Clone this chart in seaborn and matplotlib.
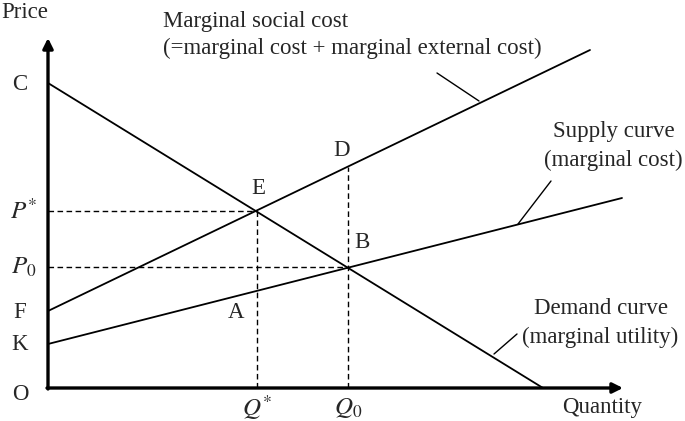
import matplotlib
matplotlib.use('Agg')
import matplotlib.pyplot as plt
import seaborn as sns

sns.set_style('white')
plt.rcParams['font.family'] = ['Liberation Serif', 'DejaVu Serif']
plt.rcParams['mathtext.fontset'] = 'stix'

# curve end points (quantity, price)
demand_q = [0, 495]
demand_p = [305, 0]
msc_q = [0, 542]
msc_p = [77, 338]
supply_q = [0, 574]
supply_p = [44, 190]

# equilibrium points
q_star, p_star = 209, 177
q_zero, p_zero = 300, 121
p_d = 221

fig = plt.figure(figsize=(6.85, 4.21), dpi=100)
ax = fig.add_axes([0, 0, 1, 1])
ax.set_xlim(-48, 637)
ax.set_ylim(-33, 388)
ax.axis('off')

fs = 16.5
ms = 18
for q, p in [(demand_q, demand_p), (msc_q, msc_p), (supply_q, supply_p)]:
    sns.lineplot(x=q, y=p, ax=ax, color='black', lw=1.3)

# axes with arrows
ax.annotate('', xy=(0, 350), xytext=(0, -1),
            arrowprops=dict(arrowstyle='-|>', lw=2.4, color='black', mutation_scale=15,
                            shrinkA=0, shrinkB=0))
ax.annotate('', xy=(575, 0), xytext=(-1, 0),
            arrowprops=dict(arrowstyle='-|>', lw=2.4, color='black', mutation_scale=15,
                            shrinkA=0, shrinkB=0))

# dashed guides
dash = dict(color='black', lw=1, ls=(0, (4, 2.5)))
ax.plot([0, q_star], [p_star, p_star], **dash)
ax.plot([q_star, q_star], [0, p_star], **dash)
ax.plot([0, q_zero], [p_zero, p_zero], **dash)
ax.plot([q_zero, q_zero], [0, p_d], **dash)

# axis labels
ax.text(-23, 375, 'Price', fontsize=fs, ha='center', va='center')
ax.text(554, -19, 'Quantity', fontsize=fs, ha='center', va='center')
ax.text(-28, -7, 'O', fontsize=fs, ha='center', va='center')
ax.text(-28, 303, 'C', fontsize=fs, ha='center', va='center')
ax.text(-24, p_star, r'$P^{*}$', fontsize=ms, ha='center', va='center')
ax.text(-24, p_zero, r'$P_0$', fontsize=ms, ha='center', va='center')
ax.text(-28, 76, 'F', fontsize=fs, ha='center', va='center')
ax.text(-28, 43, 'K', fontsize=fs, ha='center', va='center')
ax.text(q_star, -20, r'$Q^{*}$', fontsize=ms, ha='center', va='center')
ax.text(q_zero, -20, r'$Q_0$', fontsize=ms, ha='center', va='center')

# point labels
ax.text(210, 200, 'E', fontsize=fs, ha='center', va='center')
ax.text(294, 238, 'D', fontsize=fs, ha='center', va='center')
ax.text(314, 146, 'B', fontsize=fs, ha='center', va='center')
ax.text(188, 76, 'A', fontsize=fs, ha='center', va='center')

# curve names with leader lines
ax.text(115, 367, 'Marginal social cost', fontsize=fs, ha='left', va='center')
ax.text(115, 340, '(=marginal cost + marginal external cost)', fontsize=fs,
        ha='left', va='center')
ax.plot([389, 431], [315, 287], color='black', lw=1)

ax.text(566, 256, 'Supply curve', fontsize=fs, ha='center', va='center')
ax.text(565, 228, '(marginal cost)', fontsize=fs, ha='center', va='center')
ax.plot([503, 470], [207, 164], color='black', lw=1)

ax.text(553, 80, 'Demand curve', fontsize=fs, ha='center', va='center')
ax.text(552, 51, '(marginal utility)', fontsize=fs, ha='center', va='center')
ax.plot([469, 446], [54, 34], color='black', lw=1)

fig.savefig('out.png', dpi=100)
